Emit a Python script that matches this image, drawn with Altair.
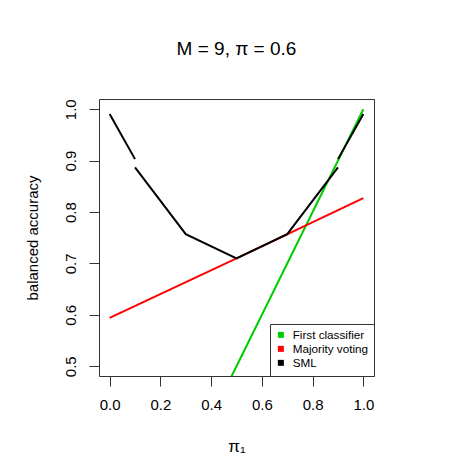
import altair as alt
import pandas as pd

FONT = "Liberation Sans"

# SML (black) drawn as three separate segments
sml_seg = ["a", "a", "b", "b", "b", "b", "b", "c", "c"]
sml_x = [0.0, 0.1, 0.1, 0.3, 0.5, 0.7, 0.9, 0.9, 1.0]
sml_y = [0.991, 0.903, 0.887, 0.757, 0.710, 0.757, 0.887, 0.903, 0.991]

mv_x = [0.0, 0.5, 1.0]
mv_y = [0.594, 0.710, 0.827]

fc_x = [0.0, 0.5, 1.0]
fc_y = [0.0, 0.5, 1.0]

series_names = ["First classifier", "Majority voting", "SML"]
series_colors = ["#00CD00", "#FF0000", "#000000"]

x_ticks = [0.0, 0.2, 0.4, 0.6, 0.8, 1.0]
y_ticks = [0.5, 0.6, 0.7, 0.8, 0.9, 1.0]

rows = []
for i, (x, y) in enumerate(zip(fc_x, fc_y)):
    rows.append({"series": "First classifier", "seg": "fc", "x": x, "y": y, "o": i})
for i, (x, y) in enumerate(zip(mv_x, mv_y)):
    rows.append({"series": "Majority voting", "seg": "mv", "x": x, "y": y, "o": i})
for i, (s, x, y) in enumerate(zip(sml_seg, sml_x, sml_y)):
    rows.append({"series": "SML", "seg": "sml_" + s, "x": x, "y": y, "o": i})
df = pd.DataFrame(rows)

chart = alt.Chart(df).mark_line(strokeWidth=2, clip=True).encode(
    x=alt.X("x:Q",
            scale=alt.Scale(domain=[-0.042, 1.042], nice=False, zero=False),
            axis=alt.Axis(values=x_ticks, format=".1f", title="π₁",
                          grid=False, domain=False, tickSize=10, tickColor="#333",
                          labelFont=FONT, labelFontSize=15, labelColor="black",
                          labelPadding=11, labelFlush=False,
                          titleFont=FONT, titleFontSize=17, titleFontWeight="normal",
                          titleColor="black", titleY=70, titleBaseline="middle")),
    y=alt.Y("y:Q",
            scale=alt.Scale(domain=[0.481, 1.02], nice=False, zero=False),
            axis=alt.Axis(values=y_ticks, format=".1f", title="balanced accuracy",
                          grid=False, domain=False, tickSize=10, tickColor="#333",
                          labelFont=FONT, labelFontSize=15, labelColor="black",
                          labelAngle=270, labelAlign="center", labelBaseline="alphabetic",
                          labelPadding=14, labelFlush=False,
                          titleFont=FONT, titleFontSize=15, titleFontWeight="normal",
                          titleColor="black", titleX=-67, titleY=138.5,
                          titleAngle=270, titleAlign="center", titleBaseline="middle")),
    color=alt.Color("series:N",
                    scale=alt.Scale(domain=series_names, range=series_colors),
                    legend=alt.Legend(title=None, orient="bottom-right", offset=0,
                                      strokeColor="#333", fillColor="white",
                                      padding=5, symbolType="square", symbolSize=9,
                                      symbolStrokeWidth=3, symbolOpacity=1,
                                      labelFont=FONT, labelFontSize=11.7,
                                      labelColor="black", rowPadding=-2,
                                      labelOffset=6)),
    detail="seg:N",
    order="o:Q",
).properties(
    width=275,
    height=277,
    autosize=alt.AutoSizeParams(type="none"),
    padding={"left": 99, "top": 99, "right": 100, "bottom": 100},
    title=alt.TitleParams("M = 9, π = 0.6", font=FONT, fontSize=19,
                          fontWeight="normal", color="black", anchor="middle",
                          baseline="alphabetic", offset=25),
).configure_view(stroke="#333", strokeWidth=1)

chart.save("out.html", embed_options={"renderer": "svg", "actions": False})
